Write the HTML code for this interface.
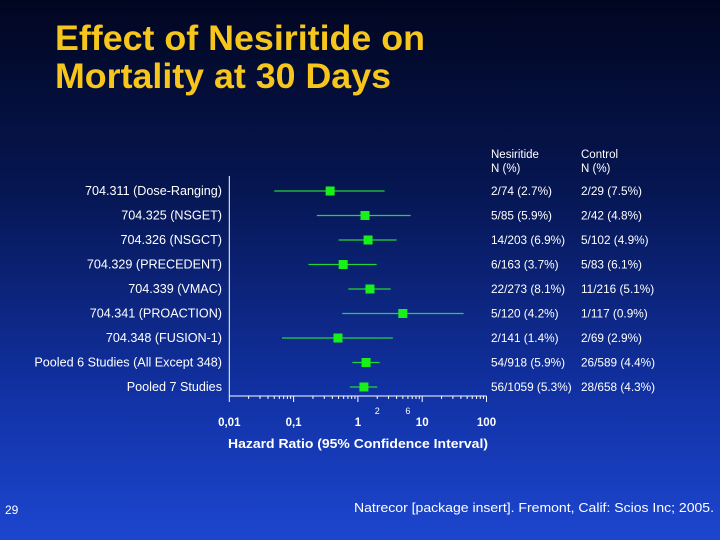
<!DOCTYPE html>
<html><head><meta charset="utf-8">
<style>
html,body{margin:0;padding:0;}
body{width:720px;height:540px;overflow:hidden;background:linear-gradient(180deg,#010620 0%,#061652 35%,#1233a8 75%,#1d46cf 100%);font-family:"Liberation Sans",sans-serif;}
svg{position:absolute;left:0;top:0;}
</style></head><body>
<svg id="chart" width="720" height="540">
<text x="55" y="50" font-size="35" font-weight="bold" fill="#f7c61c" textLength="370" lengthAdjust="spacingAndGlyphs">Effect of Nesiritide on</text>
<text x="55" y="88" font-size="35" font-weight="bold" fill="#f7c61c" textLength="336" lengthAdjust="spacingAndGlyphs">Mortality at 30 Days</text>
<text x="491" y="158" font-size="11.5" fill="#fff">Nesiritide</text>
<text x="491" y="172" font-size="11.5" fill="#fff">N (%)</text>
<text x="581" y="158" font-size="11.5" fill="#fff">Control</text>
<text x="581" y="172" font-size="11.5" fill="#fff">N (%)</text>
<text x="5" y="514" font-size="12" fill="#fff">29</text>
<text x="354" y="512" font-size="13" fill="#fff" textLength="360" lengthAdjust="spacingAndGlyphs">Natrecor [package insert]. Fremont, Calif: Scios Inc; 2005.</text>
<text x="228" y="448" font-size="12.5" font-weight="bold" fill="#fff" textLength="260" lengthAdjust="spacingAndGlyphs">Hazard Ratio (95% Confidence Interval)</text>
<g id="plot"></g>
</svg>
<script>
const studies=["704.311 (Dose-Ranging)","704.325 (NSGET)","704.326 (NSGCT)","704.329 (PRECEDENT)","704.339 (VMAC)","704.341 (PROACTION)","704.348 (FUSION-1)","Pooled 6 Studies (All Except 348)","Pooled 7 Studies"];
const hr=[0.37,1.29,1.44,0.59,1.54,5.0,0.49,1.34,1.24];
const lo=[0.05,0.23,0.5,0.17,0.71,0.57,0.066,0.82,0.75];
const hi=[2.6,6.6,4.0,1.96,3.24,44,3.5,2.18,2.0];
const nesiritide=["2/74 (2.7%)","5/85 (5.9%)","14/203 (6.9%)","6/163 (3.7%)","22/273 (8.1%)","5/120 (4.2%)","2/141 (1.4%)","54/918 (5.9%)","56/1059 (5.3%)"];
const control=["2/29 (7.5%)","2/42 (4.8%)","5/102 (4.9%)","5/83 (6.1%)","11/216 (5.1%)","1/117 (0.9%)","2/69 (2.9%)","26/589 (4.4%)","28/658 (4.3%)"];
const majorTicks=[0.01,0.1,1,10,100];
const majorLabels=["0,01","0,1","1","10","100"];
const extraTicks=[2,6];
const extraLabels=["2","6"];

const X0=229.3,DEC=64.3,AXY=396;
const xs=v=>X0+(Math.log10(v)+2)*DEC;
const ys=i=>191+i*24.5;
const ns="http://www.w3.org/2000/svg";
const g=document.getElementById('plot');
function mk(t,a){const e=document.createElementNS(ns,t);for(const k in a)e.setAttribute(k,a[k]);g.appendChild(e);return e;}
const ax=mk('line',{x1:X0,y1:176,x2:X0,y2:AXY,stroke:'#fff','stroke-width':1});


const xa=mk('line',{x1:X0,y1:AXY,x2:xs(100),y2:AXY,stroke:'#fff','stroke-width':1});


for(let d=-2;d<2;d++){for(let m=2;m<=9;m++){const v=m*Math.pow(10,d);const t=mk('line',{x1:xs(v),y1:AXY,x2:xs(v),y2:AXY+3,stroke:'#fff','stroke-width':1});

}}
majorTicks.forEach((v,i)=>{const t=mk('line',{x1:xs(v),y1:AXY,x2:xs(v),y2:AXY+6,stroke:'#fff','stroke-width':1});


const l=mk('text',{x:xs(v),y:AXY+30,'font-size':11.5,'font-weight':'bold',fill:'#fff','text-anchor':'middle'});l.textContent=majorLabels[i];

});
extraTicks.forEach((v,i)=>{const l=mk('text',{x:xs(v),y:AXY+18,'font-size':9,fill:'#fff','text-anchor':'middle'});l.textContent=extraLabels[i];

});
studies.forEach((s,i)=>{const y=ys(i);
const t=mk('text',{x:222,y:y+4,'font-size':12.6,fill:'#fff','text-anchor':'end'});t.textContent=s;


const ci=mk('line',{x1:xs(lo[i]),y1:y,x2:xs(hi[i]),y2:y,stroke:'#22d43a','stroke-width':1.2});


const p=mk('rect',{x:xs(hr[i])-4.5,y:y-4.5,width:9,height:9,fill:'#19f019'});


const a=mk('text',{x:491,y:y+4,'font-size':11.8,fill:'#fff'});a.textContent=nesiritide[i];


const b=mk('text',{x:581,y:y+4,'font-size':11.8,fill:'#fff'});b.textContent=control[i];

});
</script>
</body></html>
